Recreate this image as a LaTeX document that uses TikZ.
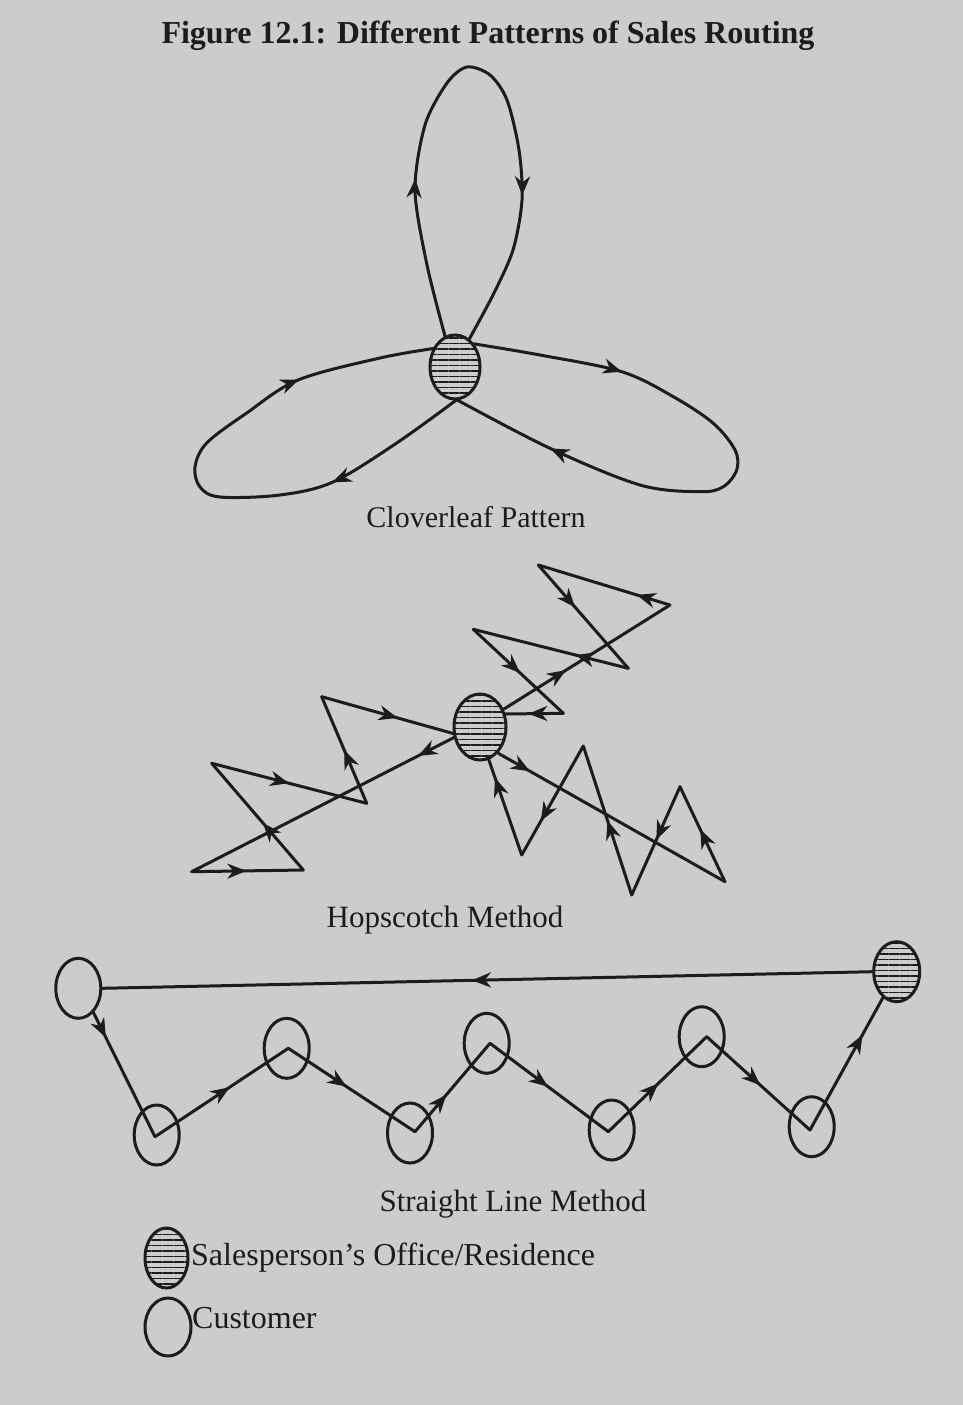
\documentclass[tikz,border=0pt]{standalone}
\usepackage{fontspec}
\setmainfont{Liberation Serif}
\usetikzlibrary{arrows.meta,decorations.markings,patterns.meta,shapes.geometric}
\definecolor{paper}{RGB}{204,204,202}
\definecolor{ink}{RGB}{28,28,28}
\tikzset{
  ln/.style={draw=ink, line width=3pt, line cap=round, line join=round},
  am/.style={postaction={decorate},decoration={markings,mark=at position #1 with {\arrow[ink]{Stealth[length=19pt,width=15pt,inset=6pt]}}}},
  am2/.style 2 args={postaction={decorate},decoration={markings,mark=at position #1 with {\arrow[ink]{Stealth[length=19pt,width=15pt,inset=6pt]}},mark=at position #2 with {\arrow[ink]{Stealth[length=19pt,width=15pt,inset=6pt]}}}},
  office/.style={ellipse, draw=ink, line width=3pt, inner sep=0pt, pattern={Lines[angle=0,distance=5.5pt,line width=1.6pt]}, pattern color=ink},
  cust/.style={ellipse, draw=ink, line width=3pt, inner sep=0pt, minimum width=45pt, minimum height=60pt},
  lab/.style={anchor=base, text=ink, font=\fontsize{31}{31}\selectfont, inner sep=0pt},
  leg/.style={anchor=base west, text=ink, font=\fontsize{32}{32}\selectfont, inner sep=0pt},
}
\begin{document}
\begin{tikzpicture}[x=1pt,y=-1pt]
\fill[paper] (0,0) rectangle (963,1405);
\useasboundingbox (0,0) rectangle (963,1405);

% ---------- title
\node[anchor=base, text=ink, inner sep=0pt, font=\fontsize{32}{32}\selectfont\bfseries] (title) at (488,44) {Figure 12.1: Different Patterns of Sales Routing};

% ---------- cloverleaf
\node[office, minimum width=50pt, minimum height=64pt] (K) at (455,367) {};
\draw[ln, am2={0.27}{0.74}] plot[smooth, tension=0.5] coordinates {(K.108) (427,265) (415,190) (425,125) (447,83) (467,67) (490,75) (507,100) (519,150) (522,200) (513,250) (493,295) (K.63)};
\draw[ln, am2={0.255}{0.764}] plot[smooth, tension=0.55] coordinates {(K.-87) (396.7,443) (333,482) (280,495) (220,497) (200,487) (195,467) (206.7,443) (246.7,413) (298,380) (380,358) (K.139)};
\draw[ln, am2={0.244}{0.83}] plot[smooth, tension=0.55] coordinates {(K.52) (540,355) (621.7,371.7) (673.3,396.7) (713.3,423.3) (735,450) (736.7,470) (723.3,486.7) (700,491.7) (640,485) (550,448.3) (K.-87)};
\node[lab, font=\fontsize{30}{30}\selectfont] (cllab) at (476,527) {Cloverleaf Pattern};

% ---------- hopscotch
\node[office, minimum width=52pt, minimum height=66pt] (H) at (480,727) {};
% upper right arm
\coordinate (hUo) at (504,709);
\coordinate (hU1) at (670,605);
\coordinate (hU2) at (538.3,565);
\coordinate (hU3) at (628.3,668.3);
\coordinate (hU4) at (473.3,629.3);
\coordinate (hU5) at (563.3,713.3);
\coordinate (hUi) at (505,714);
\draw[ln, am=0.374] (hUo) -- (hU1);
\draw[ln, am=0.253] (hU1) -- (hU2);
\draw[ln, am=0.41] (hU2) -- (hU3);
\draw[ln, am=0.34] (hU3) -- (hU4);
\draw[ln, am=0.52] (hU4) -- (hU5);
\draw[ln, am=0.6] (hU5) -- (hUi);
% left arm
\coordinate (hLo) at (455,737);
\coordinate (hL1) at (191.7,871.7);
\coordinate (hL2) at (303.3,870);
\coordinate (hL3) at (211.7,763.3);
\coordinate (hL4) at (366.7,803.3);
\coordinate (hL5) at (321.7,696.7);
\coordinate (hLi) at (455,734);
\draw[ln, am=0.14] (hLo) -- (hL1);
\draw[ln, am=0.49] (hL1) -- (hL2);
\draw[ln, am=0.44] (hL2) -- (hL3);
\draw[ln, am=0.5] (hL3) -- (hL4);
\draw[ln, am=0.5] (hL4) -- (hL5);
\draw[ln, am=0.57] (hL5) -- (hLi);
% lower right arm
\coordinate (hRo) at (498.3,753.3);
\coordinate (hR1) at (725,881.7);
\coordinate (hR2) at (680,786.7);
\coordinate (hR3) at (631.7,895);
\coordinate (hR4) at (583.3,746);
\coordinate (hR5) at (521.7,855);
\coordinate (hRi) at (488.3,758.3);
\draw[ln, am=0.14] (hRo) -- (hR1);
\draw[ln, am=0.55] (hR1) -- (hR2);
\draw[ln, am=0.49] (hR2) -- (hR3);
\draw[ln, am=0.5] (hR3) -- (hR4);
\draw[ln, am=0.69] (hR4) -- (hR5);
\draw[ln, am=0.8] (hR5) -- (hRi);
\node[lab] (hslab) at (445,927) {Hopscotch Method};

% ---------- straight line
\node[office, minimum width=46pt, minimum height=60pt] (S) at (896.7,971.7) {};
\node[cust] (C1) at (78.3,988.3) {};
\node[cust] (C2) at (156.7,1135) {};
\node[cust] (C3) at (286.7,1048.3) {};
\node[cust] (C4) at (410,1133) {};
\node[cust] (C5) at (486.7,1043.3) {};
\node[cust] (C6) at (611.7,1130) {};
\node[cust] (C7) at (701.7,1036.7) {};
\node[cust] (C8) at (811.7,1126.7) {};
\coordinate (v2) at (155,1136.7);
\coordinate (v3) at (288.3,1048.3);
\coordinate (v4) at (415,1131.7);
\coordinate (v5) at (490,1043.3);
\coordinate (v6) at (608.3,1131.7);
\coordinate (v7) at (706.7,1036.7);
\coordinate (v8) at (810,1130);
\draw[ln, am=0.52] (S.west) -- (C1.east);
\draw[ln, am=0.2] (C1.-58) -- (v2);
\draw[ln, am=0.56] (v2) -- (v3);
\draw[ln, am=0.46] (v3) -- (v4);
\draw[ln, am=0.42] (v4) -- (v5);
\draw[ln, am=0.49] (v5) -- (v6);
\draw[ln, am=0.51] (v6) -- (v7);
\draw[ln, am=0.52] (v7) -- (v8);
\draw[ln, am=0.72] (v8) -- (S.-118);
\node[lab] (sllab) at (513,1211) {Straight Line Method};

% ---------- legend
\node[office, minimum width=43pt, minimum height=60pt] (LK) at (166.5,1258) {};
\node[leg] (LKt) at (191,1265) {Salesperson’s Office/Residence};
\node[cust, minimum width=46pt, minimum height=58pt] (LC) at (168,1327) {};
\node[leg] (LCt) at (192,1328) {Customer};
\end{tikzpicture}
\end{document}
